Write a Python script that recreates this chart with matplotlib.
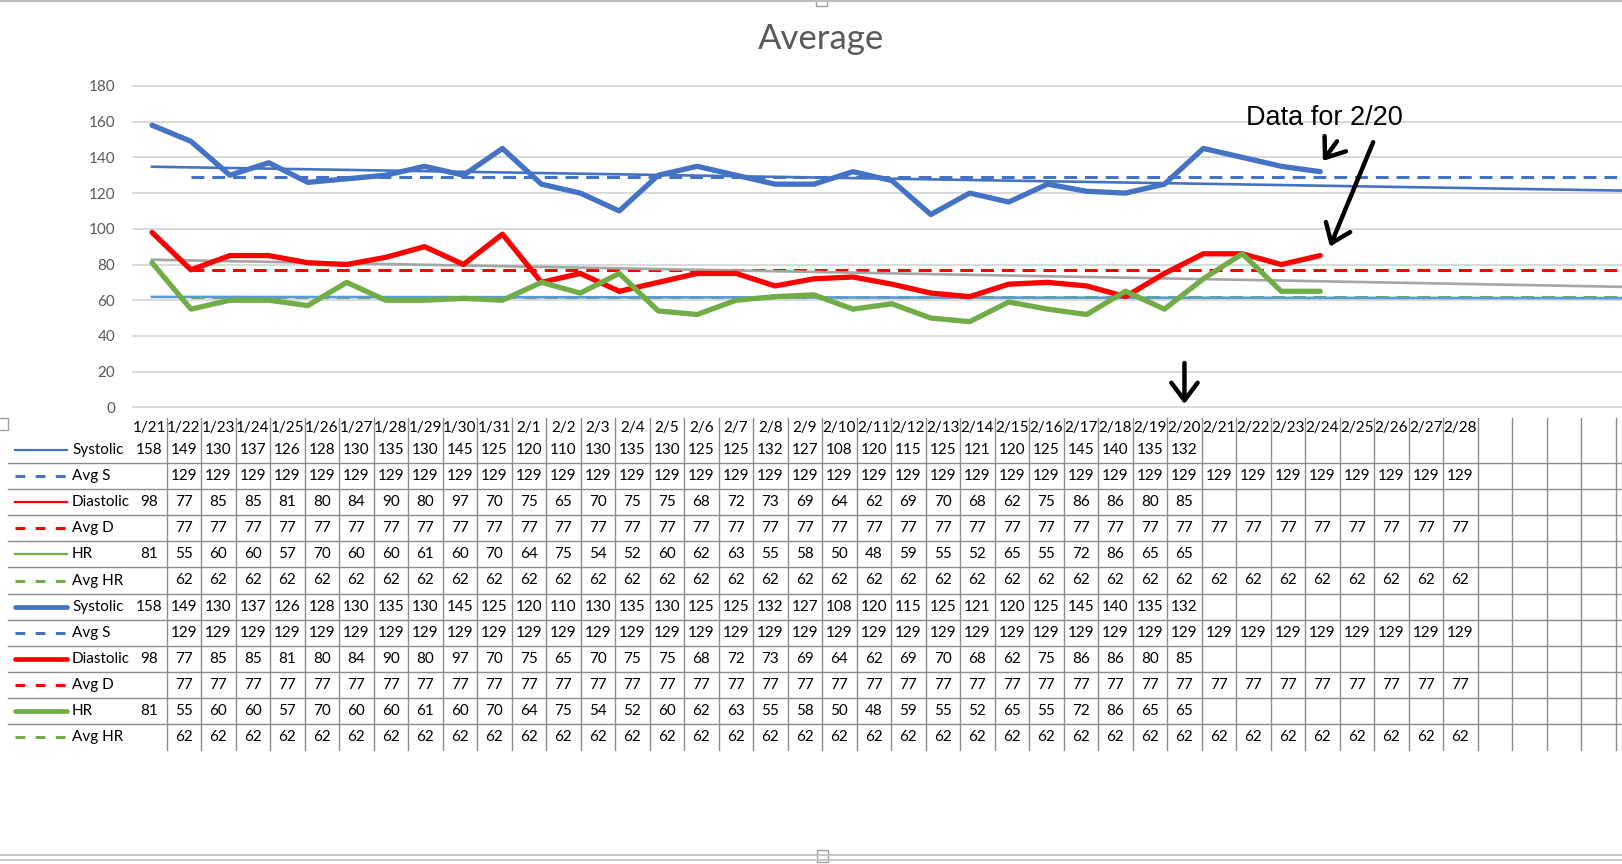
import numpy as np
import matplotlib
matplotlib.use("Agg")
import matplotlib.pyplot as plt
from matplotlib.patches import Rectangle

dates = ['1/21', '1/22', '1/23', '1/24', '1/25', '1/26', '1/27', '1/28', '1/29', '1/30', '1/31',
         '2/1', '2/2', '2/3', '2/4', '2/5', '2/6', '2/7', '2/8', '2/9', '2/10', '2/11', '2/12',
         '2/13', '2/14', '2/15', '2/16', '2/17', '2/18', '2/19', '2/20', '2/21', '2/22', '2/23',
         '2/24', '2/25', '2/26', '2/27', '2/28']
systolic = [158, 149, 130, 137, 126, 128, 130, 135, 130, 145, 125, 120, 110, 130, 135, 130,
            125, 125, 132, 127, 108, 120, 115, 125, 121, 120, 125, 145, 140, 135, 132]
diastolic = [98, 77, 85, 85, 81, 80, 84, 90, 80, 97, 70, 75, 65, 70, 75, 75,
             68, 72, 73, 69, 64, 62, 69, 70, 68, 62, 75, 86, 86, 80, 85]
hr = [81, 55, 60, 60, 57, 70, 60, 60, 61, 60, 70, 64, 75, 54, 52, 60,
      62, 63, 55, 58, 50, 48, 59, 55, 52, 65, 55, 72, 86, 65, 65]
avg_s = [None] + [129] * 38
avg_d = [None] + [77] * 38
avg_hr = [None] + [62] * 38

BLUE = '#4472C4'
RED = '#FF0000'
GREEN = '#70AD47'
GREY_TXT = '#595959'
GRID = '#D9D9D9'

W, H = 1622, 864
plt.rcParams['font.family'] = ['Lato', 'DejaVu Sans']

fig = plt.figure(figsize=(W / 100, H / 100), dpi=100)

# ---- chart area (pixel layout of the screenshot) ----
x0_px, step_px = 152.0, 38.94
left_px, top_px, bot_px = 131.7, 80.6, 412.7
ax = fig.add_axes([left_px / W, (H - bot_px) / H, 1 - left_px / W, (bot_px - top_px) / H])
ax.set_xlim((left_px - x0_px) / step_px, (W - x0_px) / step_px)
ax.set_ylim(-3, 183)
for s in ax.spines.values():
    s.set_visible(False)
ax.set_yticks(range(0, 181, 20))
ax.set_xticks([])
ax.tick_params(axis='y', length=0, pad=12, labelsize=11, labelcolor=GREY_TXT)
ax.grid(axis='y', color=GRID, lw=1.4)
ax.set_axisbelow(True)

n = len(systolic)
idx = np.arange(n)
full = np.arange(len(dates))


def nums(v):
    return np.array([np.nan if a is None else a for a in v], dtype=float)


dash = (0, (4.2, 2.6))
ax.plot(full, nums(avg_s), color=BLUE, lw=2.2, ls=dash, zorder=2)
ax.plot(full, nums(avg_d), color=RED, lw=2.2, ls=dash, zorder=2)
ax.plot(full, nums(avg_hr), color=GREEN, lw=2.2, ls=dash, zorder=2)

# linear trendlines, forecast forward to the end of the category range
xt = np.array([0, len(dates)])
for vals, col in [(systolic, BLUE), (diastolic, '#A5A5A5'), (hr, '#5B9BD5')]:
    k, b = np.polyfit(idx, vals, 1)
    ax.plot(xt, k * xt + b, color=col, lw=1.9, zorder=3)

for vals, col in [(systolic, BLUE), (diastolic, RED), (hr, GREEN)]:
    ax.plot(idx, vals, color=col, lw=3.8, solid_capstyle='round', solid_joinstyle='round', zorder=4)

# hand drawn notes
i20 = dates.index('2/20')
ax.text(i20 + 0.1, 162, 'Data for 2/20', family='Liberation Sans', fontsize=19.5,
        ha='center', va='center', zorder=6)
arr = dict(arrowstyle='->, head_length=0.6, head_width=0.45', color='black', lw=3.2,
           mutation_scale=21, shrinkA=0, shrinkB=0)
ax.annotate('', xy=(i20 + 0.07, systolic[i20] + 6), xytext=(i20 + 0.43, systolic[i20] + 17),
            arrowprops=arr, annotation_clip=False)
ax.annotate('', xy=(i20 + 0.25, diastolic[i20] + 5), xytext=(i20 + 1.36, systolic[i20] + 16.5),
            arrowprops=arr, annotation_clip=False)

# ---- overlay in pixel coordinates: title, data table, frame ----
ov = fig.add_axes([0, 0, 1, 1])
ov.set_xlim(0, W)
ov.set_ylim(H, 0)
ov.axis('off')

ov.text(821, 39, 'Average', fontsize=25, color=GREY_TXT, ha='center', va='center')

col0, cw = 166.7, 34.5
row0, rh = 450.0, 26.1
head_y, tab_top = 428, 418
fs = 11


def col_x(i):
    return col0 + cw * (i - 0.5)


rows = [
    ('Systolic', systolic, BLUE, 'thin'),
    ('Avg S', avg_s, BLUE, 'dash'),
    ('Diastolic', diastolic, RED, 'thin'),
    ('Avg D', avg_d, RED, 'dash'),
    ('HR', hr, GREEN, 'thin'),
    ('Avg HR', avg_hr, GREEN, 'dash'),
    ('Systolic', systolic, BLUE, 'thick'),
    ('Avg S', avg_s, BLUE, 'dash'),
    ('Diastolic', diastolic, RED, 'thick'),
    ('Avg D', avg_d, RED, 'dash'),
    ('HR', hr, GREEN, 'thick'),
    ('Avg HR', avg_hr, GREEN, 'dash'),
]
tab_bot = row0 + rh * (len(rows) - 0.5)

for r in range(len(rows) - 1):
    y = row0 + rh * (r + 0.5)
    ov.plot([8, W], [y, y], color='#8C8C8C', lw=1.0)
k = 0
while col0 + cw * k < W:
    ov.plot([col0 + cw * k] * 2, [tab_top, tab_bot], color='#8C8C8C', lw=1.0)
    k += 1

for i, d in enumerate(dates):
    ov.text(col_x(i), head_y, d, fontsize=fs, ha='center', va='center')

for r, (name, vals, col, style) in enumerate(rows):
    y = row0 + rh * r
    if style == 'thin':
        ov.plot([15, 67], [y, y], color=col, lw=1.6)
    elif style == 'thick':
        ov.plot([15, 67], [y, y], color=col, lw=3.4, solid_capstyle='round')
    else:
        ov.plot([15, 67], [y, y], color=col, lw=2.2, ls=(0, (3.2, 3.4)))
    ov.text(72, y, name, fontsize=fs, ha='left', va='center')
    for i, v in enumerate(vals):
        if v is not None:
            ov.text(col_x(i), y, str(v), fontsize=fs, ha='center', va='center')

# arrow down to the 2/20 column
ov.annotate('', xy=(col_x(i20), 404), xytext=(col_x(i20), 363), arrowprops=arr)

# chart frame / selection handles
ov.plot([0, W], [1, 1], color='#BFBFBF', lw=1.5)
ov.plot([0, W], [855, 855], color='#BFBFBF', lw=1.2)
ov.plot([0, W], [860, 860], color='#BFBFBF', lw=1.2)
for (hx, hy) in [(-3, 418), (816, -6), (817, 850)]:
    ov.add_patch(Rectangle((hx, hy), 11, 12, facecolor='white', edgecolor='#A0A0A0', lw=1))

fig.savefig('out.png', dpi=100)
